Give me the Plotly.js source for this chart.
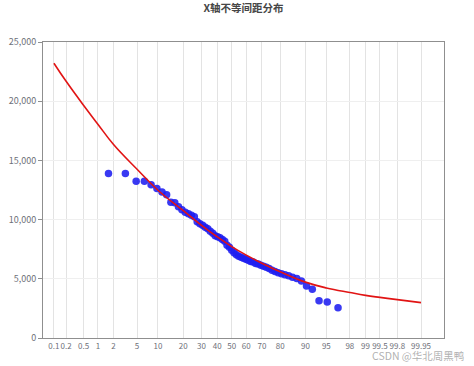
<!DOCTYPE html>
<html>
<head>
<meta charset="utf-8">
<script src="https://cdn.plot.ly/plotly-3.0.1.min.js"></script>
<style>html,body{margin:0;padding:0;background:#fff;}#chart{width:474px;height:366px;}</style>
</head>
<body>
<div id="chart"></div>
<script>
// Tick positions (exceedance probability, %) and their labels
const tickPct = [0.1,0.2,0.5,1,2,5,10,20,30,40,50,60,70,80,90,95,98,99,99.5,99.8,99.95];
const tickLabels = ['0.1','0.2','0.5','1','2','5','10','20','30','40','50','60','70','80','90','95','98','99','99.5','99.8','99.95'];

// Observed points: exceedance probability (%) and value
const obsPct = [1.61,3.23,4.84,6.45,8.06,9.68,11.29,12.90,14.52,16.13,
  17.74,19.35,20.97,22.58,24.19,25.81,27.42,29.03,30.65,32.26,
  33.87,35.48,37.10,38.71,40.32,41.94,43.55,45.16,46.77,48.39,
  50.00,51.61,53.23,54.84,56.45,58.06,59.68,61.29,62.90,64.52,
  66.13,67.74,69.35,70.97,72.58,74.19,75.81,77.42,79.03,80.65,
  82.26,83.87,85.48,87.10,88.71,90.32,91.94,93.55,95.16,96.77];
const obsVal = [13900,13900,13240,13240,12940,12620,12340,12100,11470,11430,
  11090,10840,10620,10500,10370,10250,9820,9650,9530,9360,
  9230,9020,8850,8640,8560,8470,8310,8180,7840,7670,
  7420,7200,7040,6910,6830,6740,6660,6570,6470,6410,
  6300,6240,6150,6050,5980,5860,5730,5620,5520,5430,
  5340,5250,5140,5030,4810,4390,4110,3150,3040,2550];

// Fitted frequency curve: exceedance probability (%) and value
const curvePct = [0.1,0.2,0.5,1,2,5,10,20,30,40,50,60,70,80,90,95,98,99,99.5,99.8,99.95];
const curveVal = [23210,21680,19660,18060,16340,14250,12480,10750,9520,8550,7720,7000,6320,5600,4720,4230,3840,3600,3430,3240,2990];

// Normal probability scale: percentage -> standard normal quantile
function probit(p){
  const a=[-3.969683028665376e+01,2.209460984245205e+02,-2.759285104469687e+02,1.383577518672690e+02,-3.066479806614716e+01,2.506628277459239e+00];
  const b=[-5.447609879822406e+01,1.615858368580409e+02,-1.556989798598866e+02,6.680131188771972e+01,-1.328068155288572e+01];
  const c=[-7.784894002430293e-03,-3.223964580411365e-01,-2.400758277161838e+00,-2.549732539343734e+00,4.374664141464968e+00,2.938163982698783e+00];
  const d=[7.784695709041462e-03,3.224671290700398e-01,2.445134137142996e+00,3.754408661907416e+00];
  const pl=0.02425, ph=1-pl;
  let q,r;
  if(p<pl){q=Math.sqrt(-2*Math.log(p));return (((((c[0]*q+c[1])*q+c[2])*q+c[3])*q+c[4])*q+c[5])/((((d[0]*q+d[1])*q+d[2])*q+d[3])*q+1);}
  if(p<=ph){q=p-0.5;r=q*q;return (((((a[0]*r+a[1])*r+a[2])*r+a[3])*r+a[4])*r+a[5])*q/(((((b[0]*r+b[1])*r+b[2])*r+b[3])*r+b[4])*r+1);}
  q=Math.sqrt(-2*Math.log(1-p));return -(((((c[0]*q+c[1])*q+c[2])*q+c[3])*q+c[4])*q+c[5])/((((d[0]*q+d[1])*q+d[2])*q+d[3])*q+1);
}
const toZ = arr => arr.map(v => probit(v/100));

const font = 'Noto Sans CJK SC, Open Sans, sans-serif';

const traces = [
  {
    type:'scatter', mode:'markers', x: toZ(obsPct), y: obsVal,
    marker:{color:'rgba(30,30,240,0.88)', size:7.5, line:{width:0}},
    hoverinfo:'skip', showlegend:false
  },
  {
    type:'scatter', mode:'lines', x: toZ(curvePct), y: curveVal,
    line:{color:'rgb(225,20,20)', width:1.6, shape:'spline', smoothing:1.2},
    hoverinfo:'skip', showlegend:false
  }
];

const layout = {
  width:474, height:366,
  margin:{l:42.5, r:30, t:41.7, b:28, pad:0},
  paper_bgcolor:'#fff', plot_bgcolor:'#fff',
  font:{family:font, size:9, color:'#6e7079'},
  title:{text:'X轴不等间距分布', x:0.5, xanchor:'center', xref:'paper', y:0.978, yref:'container', yanchor:'middle',
         font:{family:font, size:10.5, color:'#464646', weight:'bold'}},
  xaxis:{
    range:[-3.28, 3.69], tickmode:'array', tickvals: toZ(tickPct), ticktext: tickLabels,
    tickangle:0, showgrid:true, gridcolor:'#e3e3e3', gridwidth:1, zeroline:false,
    showline:true, linecolor:'#8f8f8f', linewidth:1, mirror:true,
    ticks:'', tickfont:{family:font, size:8, color:'#6e7079'}, fixedrange:true
  },
  yaxis:{
    range:[0,25000], tickmode:'array', tickvals:[0,5000,10000,15000,20000,25000], tickformat:',d',
    showgrid:true, gridcolor:'#efefef', gridwidth:1, zeroline:false,
    showline:true, linecolor:'#8f8f8f', linewidth:1, mirror:true,
    ticks:'outside', ticklen:4, tickcolor:'#8f8f8f', tickfont:{family:font, size:9, color:'#6e7079'}, fixedrange:true
  },
  annotations:[{
    text:'CSDN @华北周黑鸭', xref:'paper', yref:'paper', x:1.055, y:-0.058, xanchor:'right', yanchor:'middle',
    showarrow:false, font:{family:font, size:10.5, color:'rgba(150,150,150,0.75)'}
  }]
};

Plotly.newPlot('chart', traces, layout, {staticPlot:true, displayModeBar:false});
</script>
</body>
</html>
